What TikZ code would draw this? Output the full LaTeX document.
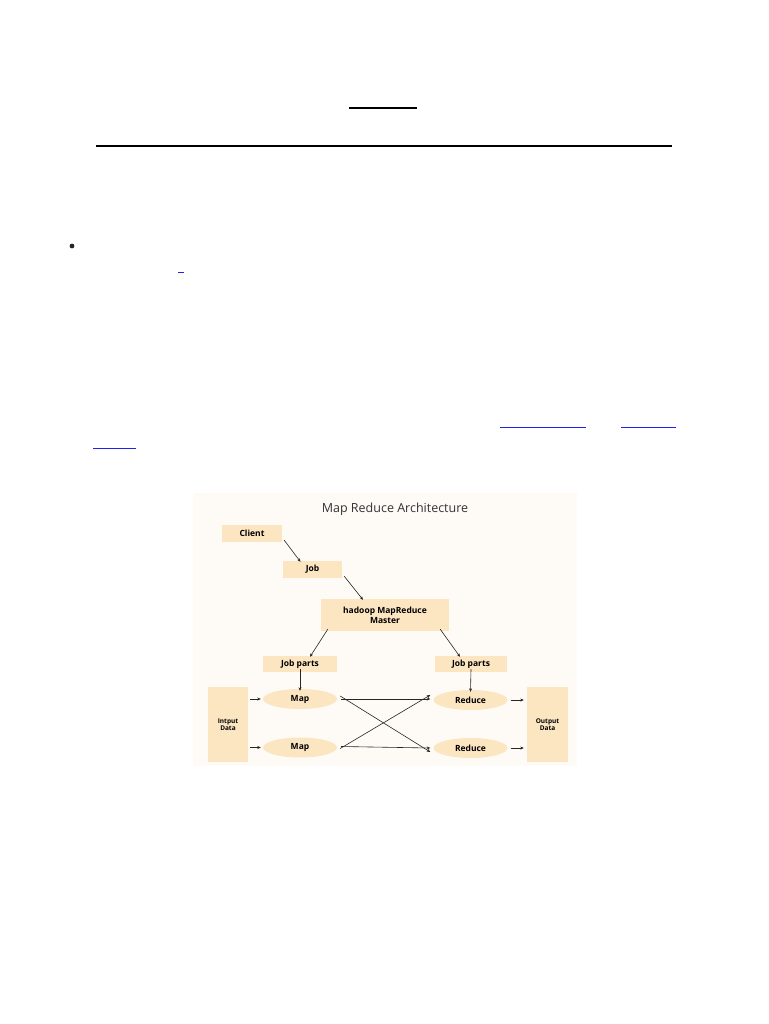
\documentclass[tikz,border=0pt]{standalone}
\usepackage{fontspec}
\setmainfont{Open Sans}
\usetikzlibrary{shapes.geometric,arrows.meta}
\definecolor{peach}{HTML}{FCE6C2}
\definecolor{panel}{HTML}{FEFBF7}
\definecolor{lnk}{HTML}{2222EE}
\begin{document}
\begin{tikzpicture}[x=1pt,y=-1pt,
  box/.style={fill=peach,inner sep=0pt,font=\bfseries\fontsize{8.5}{10}\selectfont,align=center},
  oval/.style={ellipse,fill=peach,inner sep=0pt,minimum width=74pt,minimum height=20pt,font=\bfseries\fontsize{8.5}{10}\selectfont},
  arr/.style={-{Stealth[length=3.5pt,width=3pt]},line width=0.6pt,black!85}]
\useasboundingbox (0,0) rectangle (768,1024);
\fill[white] (0,0) rectangle (768,1024);
% page decorations
\draw[line width=1.6pt] (349,108) -- (417,108);
\draw[line width=1.6pt] (96,146) -- (672,146);
\fill[black!85] (72,246) circle (2.4pt);
\draw[lnk,line width=0.7pt] (178,272) -- (184,272);
\draw[lnk,line width=0.7pt] (500,427) -- (586,427);
\draw[lnk,line width=0.7pt] (621,427) -- (676,427);
\draw[lnk,line width=0.7pt] (93,448) -- (136,448);
% panel
\fill[panel] (193,493) rectangle (577,766);
\node[font=\fontsize{12.5}{14}\selectfont,text=black!80] (title) at (395,509) {Map Reduce Architecture};
\node[box,minimum width=60pt,minimum height=17pt] (client) at (252,533.5) {Client};
\node[box,minimum width=59pt,minimum height=17pt] (job) at (312.5,569.5) {Job};
\node[box,minimum width=128pt,minimum height=32pt] (master) at (385,615) {hadoop MapReduce\\Master};
\node[box,minimum width=74pt,minimum height=16pt] (jp1) at (300,664) {Job parts};
\node[box,minimum width=72pt,minimum height=16pt] (jp2) at (471,664) {Job parts};
\node[box,minimum width=40pt,minimum height=75pt,font=\bfseries\fontsize{6.5}{7.5}\selectfont] (in) at (228,724.5) {Intput\\Data};
\node[box,minimum width=41pt,minimum height=75pt,font=\bfseries\fontsize{6.5}{7.5}\selectfont] (out) at (547.5,724.5) {Output\\Data};
\node[oval] (m1) at (300,699) {Map};
\node[oval] (m2) at (300,747.5) {Map};
\node[oval] (r1) at (470.5,700) {Reduce};
\node[oval] (r2) at (470.5,748) {Reduce};
\draw[arr] ([xshift=2pt,yshift=2pt]client.south east) -- ([xshift=-12pt,yshift=-1pt]job.north);
\draw[arr] ([xshift=2pt,yshift=2pt]job.south east) -- ([xshift=-22pt,yshift=-1pt]master.north);
\draw[arr] ([xshift=7pt,yshift=2pt]master.south west) -- ([xshift=10pt,yshift=-1pt]jp1.north);
\draw[arr] ([xshift=-9pt,yshift=2pt]master.south east) -- ([xshift=-11pt,yshift=-1pt]jp2.north);
\draw[arr] ([yshift=3pt]jp1.south) -- ([yshift=-2pt]m1.north);
\draw[arr] ([yshift=3pt]jp2.south) -- ([yshift=-2pt]r1.north);
\draw[arr] ([xshift=2pt]in.east |- m1) -- ([xshift=-2pt]m1.west);
\draw[arr] ([xshift=2pt]in.east |- m2) -- ([xshift=-2pt]m2.west);
\draw[arr] ([xshift=4pt]m1.east) -- ([xshift=-3pt]r1.west |- m1);
\draw[arr] ([xshift=3pt,yshift=3pt]m1.east) -- ([xshift=-3pt,yshift=-4pt]r2.west);
\draw[arr] ([xshift=3pt,yshift=-1pt]m2.east) -- ([xshift=-3pt,yshift=5pt]r1.west);
\draw[arr] ([xshift=4pt,yshift=1pt]m2.east) -- ([xshift=-3pt]r2.west);
\draw[arr] ([xshift=3pt]r1.east) -- ([xshift=-3pt]out.west |- r1);
\draw[arr] ([xshift=3pt]r2.east) -- ([xshift=-3pt]out.west |- r2);
\end{tikzpicture}
\end{document}
